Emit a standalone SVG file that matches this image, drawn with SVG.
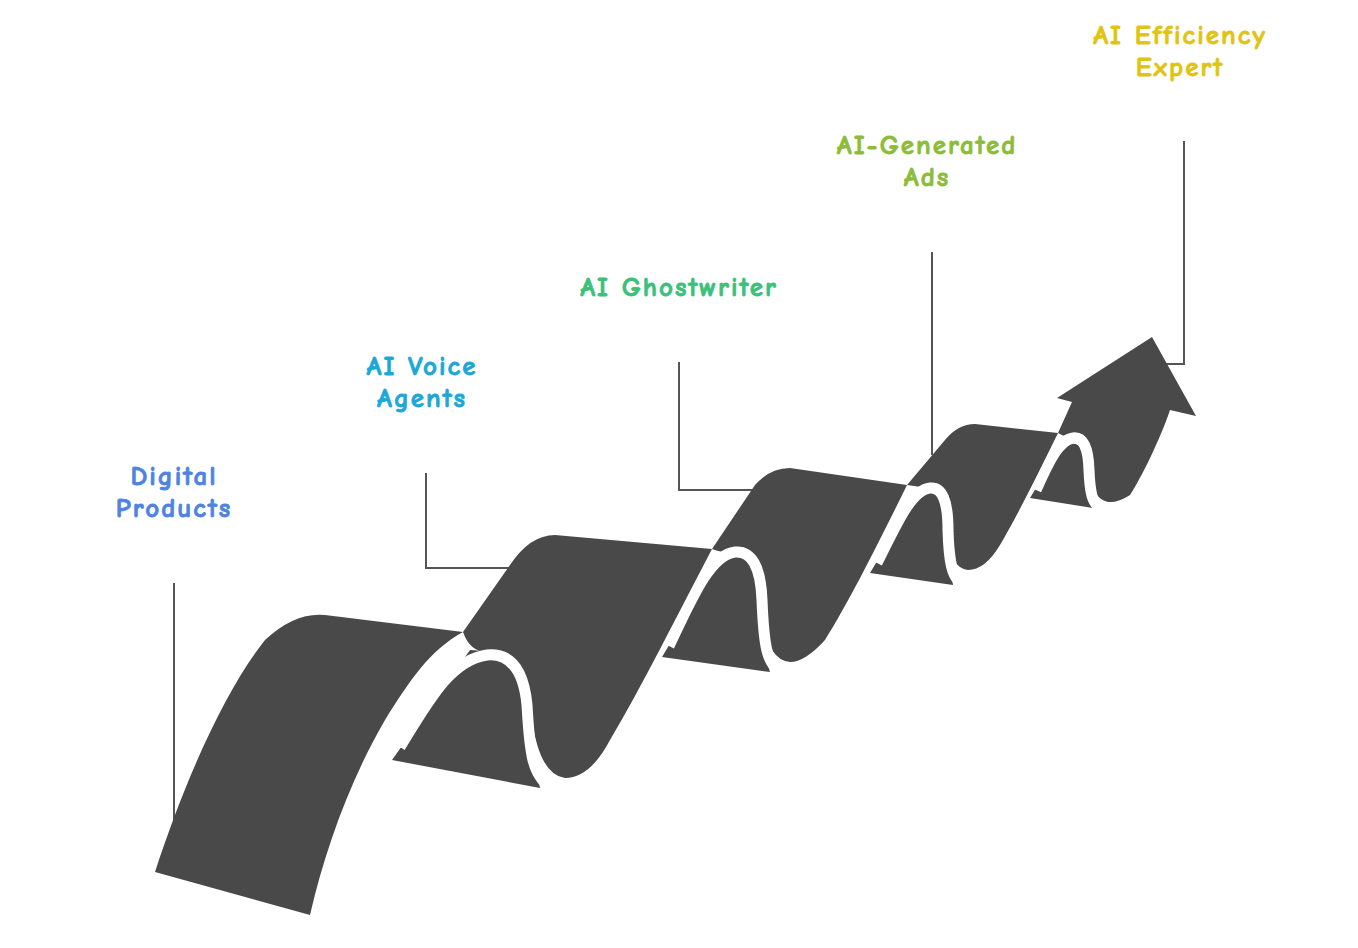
<svg xmlns="http://www.w3.org/2000/svg" width="1358" height="948" viewBox="0 0 1358 948">
<style>
.d{fill:#494949}
.w{fill:none;stroke:#fff;stroke-width:11}
.c{fill:none;stroke:#555;stroke-width:2}
text{font-family:"Comic Neue","Lato","Liberation Sans",sans-serif;font-weight:bold;font-size:27px;text-anchor:middle;letter-spacing:2px;stroke-width:0.8}
</style>
<rect width="1358" height="948" fill="#fff"/>
<g id="connectors">
<path class="c" d="M174,583 V830"/>
<path class="c" d="M426,473 V568 H510"/>
<path class="c" d="M679,362 V490 H760"/>
<path class="c" d="M932,252 V455"/>
<path class="c" d="M1184,141 V364 H1160"/>
</g>
<g id="ribbon">
<path class="d" d="M1030,498 L1060,448 Q1072,440 1080,446 Q1088,460 1088,480 C1089,495 1091,503 1093,508 Z"/>
<path class="d" d="M1058,433 L1072,402 L1057,398 L1152,337 L1196,416 L1170,410 C1160,440 1140,480 1130,495 Q1118,503 1108,502 Q1092,498 1090,475 C1088,455 1085,440 1072,440 Z"/>
<path class="w" d="M1036,490 C1047,466 1058,440 1073,438 Q1088,436 1089,470 C1090,495 1093,502 1098,506"/>
<path class="d" d="M870,573 L915,498 Q930,488 940,495 Q948,510 948,540 C950,565 952,578 953,585 Z"/>
<path class="d" d="M907,485 L945,440 Q958,424 975,424 L1058,433 C1040,470 1015,520 1000,545 Q985,570 968,570 Q950,568 948,535 C947,500 940,488 928,488 Z"/>
<path class="w" d="M877,563 C894,530 910,490 930,488 Q948,486 948,530 C949,565 953,575 958,580"/>
<path class="d" d="M662,657 L720,560 Q735,553 750,560 Q762,575 763,620 C765,650 768,665 770,672 Z"/>
<path class="d" d="M712,549 L755,485 Q770,468 790,468 L907,485 C880,540 850,600 825,640 Q805,662 790,662 Q768,660 764,620 C762,570 755,553 735,553 Q722,553 712,549 Z"/>
<path class="w" d="M669,646 C692,598 710,555 735,552 Q760,550 762,600 C764,650 768,660 776,668"/>
<path class="d" d="M392,760 L470,650 L500,652 Q525,660 530,720 C533,760 538,775 540,788 Z"/>
<path class="d" d="M463,632 L510,565 Q530,535 555,535 L712,549 C680,610 640,690 610,740 Q590,778 565,778 Q540,775 532,720 C528,670 515,652 487,652 Q470,652 463,632 Z"/>
<path class="w" d="M400,747 C428,702 450,660 487,655 Q522,652 527,705 C530,760 534,772 546,784"/>
<path class="d" d="M155,872 C185,780 225,690 265,640 Q295,612 325,615 L463,632 C430,650 410,680 385,720 C350,780 325,850 310,915 Z"/>
</g>
<g id="n1"><text fill="#4f83e0" stroke="#4f83e0" x="174" y="485">Digital</text><text fill="#4f83e0" stroke="#4f83e0" x="174" y="517">Products</text></g>
<g id="n2"><text fill="#1ba8d8" stroke="#1ba8d8" x="422" y="375">AI Voice</text><text fill="#1ba8d8" stroke="#1ba8d8" x="422" y="407">Agents</text></g>
<g id="n3"><text fill="#3cc07a" stroke="#3cc07a" x="679" y="296">AI Ghostwriter</text></g>
<g id="n4"><text fill="#8cbc3a" stroke="#8cbc3a" x="927" y="154">AI-Generated</text><text fill="#8cbc3a" stroke="#8cbc3a" x="927" y="186">Ads</text></g>
<g id="n5"><text fill="#e0c414" stroke="#e0c414" x="1180" y="44">AI Efficiency</text><text fill="#e0c414" stroke="#e0c414" x="1180" y="76">Expert</text></g>
</svg>
